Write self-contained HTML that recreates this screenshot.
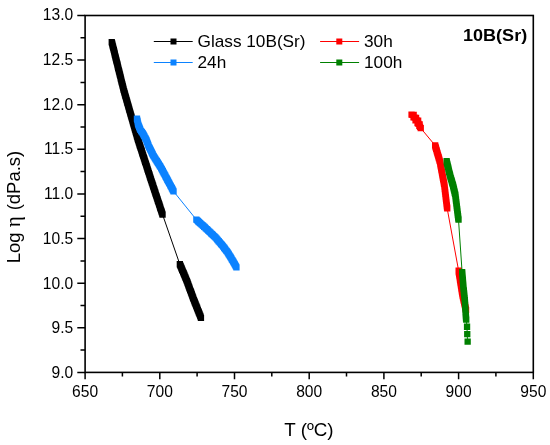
<!DOCTYPE html>
<html><head><meta charset="utf-8"><title>chart</title>
<style>
html,body{margin:0;padding:0;background:#fff;}
svg{display:block;font-family:"Liberation Sans",sans-serif;fill:#000;}
</style></head><body>
<svg width="550" height="445" viewBox="0 0 550 445">
<rect width="550" height="445" fill="#fff"/>
<path d="M111.8 42.0L123.7 90.0L138.1 140.0L151.1 180.0L162.6 214.7L179.8 264.2L186.5 280.0L193.9 300.0L201.0 317.8" fill="none" stroke="#000000" stroke-width="1"/>
<path d="M108.6 38.9h6.3v6.3h-6.3zM108.9 40.0h6.3v6.3h-6.3zM109.2 41.2h6.3v6.3h-6.3zM109.5 42.4h6.3v6.3h-6.3zM109.8 43.5h6.3v6.3h-6.3zM110.1 44.7h6.3v6.3h-6.3zM110.4 45.9h6.3v6.3h-6.3zM110.7 47.0h6.3v6.3h-6.3zM111.0 48.2h6.3v6.3h-6.3zM111.3 49.4h6.3v6.3h-6.3zM111.6 50.6h6.3v6.3h-6.3zM111.8 51.7h6.3v6.3h-6.3zM112.1 52.9h6.3v6.3h-6.3zM112.4 54.1h6.3v6.3h-6.3zM112.7 55.2h6.3v6.3h-6.3zM113.0 56.4h6.3v6.3h-6.3zM113.3 57.6h6.3v6.3h-6.3zM113.6 58.8h6.3v6.3h-6.3zM113.9 59.9h6.3v6.3h-6.3zM114.2 61.1h6.3v6.3h-6.3zM114.5 62.3h6.3v6.3h-6.3zM114.7 63.4h6.3v6.3h-6.3zM115.0 64.6h6.3v6.3h-6.3zM115.3 65.8h6.3v6.3h-6.3zM115.6 66.9h6.3v6.3h-6.3zM115.9 68.1h6.3v6.3h-6.3zM116.2 69.3h6.3v6.3h-6.3zM116.5 70.5h6.3v6.3h-6.3zM116.8 71.6h6.3v6.3h-6.3zM117.1 72.8h6.3v6.3h-6.3zM117.4 74.0h6.3v6.3h-6.3zM117.6 75.1h6.3v6.3h-6.3zM117.9 76.3h6.3v6.3h-6.3zM118.2 77.5h6.3v6.3h-6.3zM118.5 78.7h6.3v6.3h-6.3zM118.8 79.8h6.3v6.3h-6.3zM119.1 81.0h6.3v6.3h-6.3zM119.4 82.2h6.3v6.3h-6.3zM119.7 83.3h6.3v6.3h-6.3zM120.0 84.5h6.3v6.3h-6.3zM120.3 85.7h6.3v6.3h-6.3zM120.5 86.8h6.3v6.3h-6.3zM120.9 88.0h6.3v6.3h-6.3zM121.2 89.2h6.3v6.3h-6.3zM121.6 90.3h6.3v6.3h-6.3zM121.9 91.5h6.3v6.3h-6.3zM122.2 92.7h6.3v6.3h-6.3zM122.6 93.8h6.3v6.3h-6.3zM122.9 95.0h6.3v6.3h-6.3zM123.2 96.2h6.3v6.3h-6.3zM123.6 97.3h6.3v6.3h-6.3zM123.9 98.5h6.3v6.3h-6.3zM124.2 99.6h6.3v6.3h-6.3zM124.6 100.8h6.3v6.3h-6.3zM124.9 102.0h6.3v6.3h-6.3zM125.2 103.1h6.3v6.3h-6.3zM125.6 104.3h6.3v6.3h-6.3zM125.9 105.5h6.3v6.3h-6.3zM126.2 106.6h6.3v6.3h-6.3zM126.6 107.8h6.3v6.3h-6.3zM126.9 108.9h6.3v6.3h-6.3zM127.2 110.1h6.3v6.3h-6.3zM127.6 111.3h6.3v6.3h-6.3zM127.9 112.4h6.3v6.3h-6.3zM128.3 113.6h6.3v6.3h-6.3zM128.6 114.8h6.3v6.3h-6.3zM128.9 115.9h6.3v6.3h-6.3zM129.3 117.1h6.3v6.3h-6.3zM129.6 118.2h6.3v6.3h-6.3zM129.9 119.4h6.3v6.3h-6.3zM130.3 120.6h6.3v6.3h-6.3zM130.6 121.7h6.3v6.3h-6.3zM130.9 122.9h6.3v6.3h-6.3zM131.3 124.1h6.3v6.3h-6.3zM131.6 125.2h6.3v6.3h-6.3zM131.9 126.4h6.3v6.3h-6.3zM132.3 127.5h6.3v6.3h-6.3zM132.6 128.7h6.3v6.3h-6.3zM132.9 129.9h6.3v6.3h-6.3zM133.3 131.0h6.3v6.3h-6.3zM133.6 132.2h6.3v6.3h-6.3zM133.9 133.4h6.3v6.3h-6.3zM134.3 134.5h6.3v6.3h-6.3zM134.6 135.7h6.3v6.3h-6.3zM134.9 136.8h6.3v6.3h-6.3zM135.3 138.0h6.3v6.3h-6.3zM135.7 139.1h6.3v6.3h-6.3zM136.1 140.3h6.3v6.3h-6.3zM136.4 141.4h6.3v6.3h-6.3zM136.8 142.6h6.3v6.3h-6.3zM137.2 143.7h6.3v6.3h-6.3zM137.5 144.8h6.3v6.3h-6.3zM137.9 146.0h6.3v6.3h-6.3zM138.3 147.1h6.3v6.3h-6.3zM138.7 148.3h6.3v6.3h-6.3zM139.0 149.4h6.3v6.3h-6.3zM139.4 150.6h6.3v6.3h-6.3zM139.8 151.7h6.3v6.3h-6.3zM140.1 152.8h6.3v6.3h-6.3zM140.5 154.0h6.3v6.3h-6.3zM140.9 155.1h6.3v6.3h-6.3zM141.3 156.3h6.3v6.3h-6.3zM141.6 157.4h6.3v6.3h-6.3zM142.0 158.6h6.3v6.3h-6.3zM142.4 159.7h6.3v6.3h-6.3zM142.8 160.8h6.3v6.3h-6.3zM143.1 162.0h6.3v6.3h-6.3zM143.5 163.1h6.3v6.3h-6.3zM143.9 164.3h6.3v6.3h-6.3zM144.2 165.4h6.3v6.3h-6.3zM144.6 166.6h6.3v6.3h-6.3zM145.0 167.7h6.3v6.3h-6.3zM145.3 168.8h6.3v6.3h-6.3zM145.7 170.0h6.3v6.3h-6.3zM146.1 171.1h6.3v6.3h-6.3zM146.5 172.3h6.3v6.3h-6.3zM146.8 173.4h6.3v6.3h-6.3zM147.2 174.6h6.3v6.3h-6.3zM147.6 175.7h6.3v6.3h-6.3zM147.9 176.8h6.3v6.3h-6.3zM148.3 178.0h6.3v6.3h-6.3zM148.7 179.2h6.3v6.3h-6.3zM149.1 180.3h6.3v6.3h-6.3zM149.5 181.5h6.3v6.3h-6.3zM149.9 182.6h6.3v6.3h-6.3zM150.2 183.8h6.3v6.3h-6.3zM150.6 184.9h6.3v6.3h-6.3zM151.0 186.1h6.3v6.3h-6.3zM151.4 187.3h6.3v6.3h-6.3zM151.8 188.4h6.3v6.3h-6.3zM152.2 189.6h6.3v6.3h-6.3zM152.5 190.7h6.3v6.3h-6.3zM152.9 191.9h6.3v6.3h-6.3zM153.3 193.0h6.3v6.3h-6.3zM153.7 194.2h6.3v6.3h-6.3zM154.1 195.4h6.3v6.3h-6.3zM154.5 196.5h6.3v6.3h-6.3zM154.8 197.7h6.3v6.3h-6.3zM155.2 198.8h6.3v6.3h-6.3zM155.6 200.0h6.3v6.3h-6.3zM156.0 201.1h6.3v6.3h-6.3zM156.4 202.3h6.3v6.3h-6.3zM156.8 203.5h6.3v6.3h-6.3zM157.1 204.6h6.3v6.3h-6.3zM157.5 205.8h6.3v6.3h-6.3zM157.9 206.9h6.3v6.3h-6.3zM158.3 208.1h6.3v6.3h-6.3zM158.7 209.2h6.3v6.3h-6.3zM159.1 210.4h6.3v6.3h-6.3zM159.4 211.5h6.3v6.3h-6.3zM176.7 261.1h6.3v6.3h-6.3zM177.1 262.2h6.3v6.3h-6.3zM177.6 263.3h6.3v6.3h-6.3zM178.1 264.4h6.3v6.3h-6.3zM178.6 265.6h6.3v6.3h-6.3zM179.0 266.7h6.3v6.3h-6.3zM179.5 267.8h6.3v6.3h-6.3zM180.0 269.0h6.3v6.3h-6.3zM180.5 270.1h6.3v6.3h-6.3zM181.0 271.2h6.3v6.3h-6.3zM181.4 272.3h6.3v6.3h-6.3zM181.9 273.5h6.3v6.3h-6.3zM182.4 274.6h6.3v6.3h-6.3zM182.9 275.7h6.3v6.3h-6.3zM183.3 276.9h6.3v6.3h-6.3zM183.8 278.0h6.3v6.3h-6.3zM184.2 279.1h6.3v6.3h-6.3zM184.6 280.2h6.3v6.3h-6.3zM185.0 281.3h6.3v6.3h-6.3zM185.4 282.4h6.3v6.3h-6.3zM185.8 283.5h6.3v6.3h-6.3zM186.2 284.6h6.3v6.3h-6.3zM186.6 285.7h6.3v6.3h-6.3zM187.0 286.9h6.3v6.3h-6.3zM187.5 288.0h6.3v6.3h-6.3zM187.9 289.1h6.3v6.3h-6.3zM188.3 290.2h6.3v6.3h-6.3zM188.7 291.3h6.3v6.3h-6.3zM189.1 292.4h6.3v6.3h-6.3zM189.5 293.5h6.3v6.3h-6.3zM189.9 294.6h6.3v6.3h-6.3zM190.3 295.7h6.3v6.3h-6.3zM190.8 296.9h6.3v6.3h-6.3zM191.2 298.0h6.3v6.3h-6.3zM191.6 299.1h6.3v6.3h-6.3zM192.1 300.2h6.3v6.3h-6.3zM192.5 301.3h6.3v6.3h-6.3zM193.0 302.4h6.3v6.3h-6.3zM193.4 303.5h6.3v6.3h-6.3zM193.9 304.6h6.3v6.3h-6.3zM194.3 305.8h6.3v6.3h-6.3zM194.7 306.9h6.3v6.3h-6.3zM195.2 308.0h6.3v6.3h-6.3zM195.6 309.1h6.3v6.3h-6.3zM196.1 310.2h6.3v6.3h-6.3zM196.5 311.3h6.3v6.3h-6.3zM197.0 312.4h6.3v6.3h-6.3zM197.4 313.5h6.3v6.3h-6.3zM197.8 314.7h6.3v6.3h-6.3z" fill="#000000"/>
<path d="M137.0 118.6L138.3 125.0L140.4 130.0L142.7 133.2L146.3 139.8L148.6 146.0L153.2 155.3L156.3 160.3L160.6 167.0L173.6 191.4L196.4 219.7L205.0 227.5L215.5 237.5L222.0 245.0L227.0 251.5L232.0 259.5L236.5 267.4" fill="none" stroke="#0b82ff" stroke-width="1"/>
<path d="M133.8 115.4h6.3v6.3h-6.3zM134.1 116.7h6.3v6.3h-6.3zM134.4 118.0h6.3v6.3h-6.3zM134.6 119.3h6.3v6.3h-6.3zM134.9 120.6h6.3v6.3h-6.3zM135.2 121.8h6.3v6.3h-6.3zM135.6 122.8h6.3v6.3h-6.3zM136.0 123.8h6.3v6.3h-6.3zM136.4 124.8h6.3v6.3h-6.3zM136.8 125.8h6.3v6.3h-6.3zM137.2 126.8h6.3v6.3h-6.3zM138.0 127.9h6.3v6.3h-6.3zM138.8 129.0h6.3v6.3h-6.3zM139.5 130.0h6.3v6.3h-6.3zM140.1 131.1h6.3v6.3h-6.3zM140.8 132.2h6.3v6.3h-6.3zM141.3 133.3h6.3v6.3h-6.3zM141.9 134.4h6.3v6.3h-6.3zM142.6 135.6h6.3v6.3h-6.3zM143.2 136.7h6.3v6.3h-6.3zM143.5 137.7h6.3v6.3h-6.3zM143.9 138.7h6.3v6.3h-6.3zM144.3 139.8h6.3v6.3h-6.3zM144.7 140.8h6.3v6.3h-6.3zM145.1 141.8h6.3v6.3h-6.3zM145.4 142.8h6.3v6.3h-6.3zM146.0 143.9h6.3v6.3h-6.3zM146.5 144.9h6.3v6.3h-6.3zM147.0 145.9h6.3v6.3h-6.3zM147.5 147.0h6.3v6.3h-6.3zM148.0 148.0h6.3v6.3h-6.3zM148.5 149.1h6.3v6.3h-6.3zM149.0 150.1h6.3v6.3h-6.3zM149.5 151.1h6.3v6.3h-6.3zM150.0 152.2h6.3v6.3h-6.3zM150.7 153.2h6.3v6.3h-6.3zM151.3 154.2h6.3v6.3h-6.3zM151.9 155.2h6.3v6.3h-6.3zM152.5 156.2h6.3v6.3h-6.3zM153.2 157.2h6.3v6.3h-6.3zM153.8 158.1h6.3v6.3h-6.3zM154.4 159.1h6.3v6.3h-6.3zM155.0 160.0h6.3v6.3h-6.3zM155.6 161.0h6.3v6.3h-6.3zM156.2 161.9h6.3v6.3h-6.3zM156.8 162.9h6.3v6.3h-6.3zM157.4 163.8h6.3v6.3h-6.3zM158.0 164.9h6.3v6.3h-6.3zM158.6 166.0h6.3v6.3h-6.3zM159.1 167.0h6.3v6.3h-6.3zM159.7 168.1h6.3v6.3h-6.3zM160.3 169.2h6.3v6.3h-6.3zM160.8 170.2h6.3v6.3h-6.3zM161.4 171.3h6.3v6.3h-6.3zM162.0 172.3h6.3v6.3h-6.3zM162.5 173.4h6.3v6.3h-6.3zM163.1 174.5h6.3v6.3h-6.3zM163.7 175.5h6.3v6.3h-6.3zM164.2 176.6h6.3v6.3h-6.3zM164.8 177.6h6.3v6.3h-6.3zM165.4 178.7h6.3v6.3h-6.3zM165.9 179.8h6.3v6.3h-6.3zM166.5 180.8h6.3v6.3h-6.3zM167.1 181.9h6.3v6.3h-6.3zM167.6 182.9h6.3v6.3h-6.3zM168.2 184.0h6.3v6.3h-6.3zM168.8 185.1h6.3v6.3h-6.3zM169.3 186.1h6.3v6.3h-6.3zM169.9 187.2h6.3v6.3h-6.3zM170.4 188.2h6.3v6.3h-6.3zM193.2 216.5h6.3v6.3h-6.3zM194.1 217.3h6.3v6.3h-6.3zM195.0 218.1h6.3v6.3h-6.3zM195.8 218.9h6.3v6.3h-6.3zM196.7 219.7h6.3v6.3h-6.3zM197.5 220.4h6.3v6.3h-6.3zM198.4 221.2h6.3v6.3h-6.3zM199.3 222.0h6.3v6.3h-6.3zM200.1 222.8h6.3v6.3h-6.3zM201.0 223.6h6.3v6.3h-6.3zM201.8 224.3h6.3v6.3h-6.3zM202.7 225.2h6.3v6.3h-6.3zM203.6 226.0h6.3v6.3h-6.3zM204.5 226.8h6.3v6.3h-6.3zM205.3 227.7h6.3v6.3h-6.3zM206.2 228.5h6.3v6.3h-6.3zM207.1 229.3h6.3v6.3h-6.3zM208.0 230.2h6.3v6.3h-6.3zM208.8 231.0h6.3v6.3h-6.3zM209.7 231.8h6.3v6.3h-6.3zM210.6 232.7h6.3v6.3h-6.3zM211.5 233.5h6.3v6.3h-6.3zM212.3 234.3h6.3v6.3h-6.3zM213.2 235.3h6.3v6.3h-6.3zM214.0 236.2h6.3v6.3h-6.3zM214.8 237.2h6.3v6.3h-6.3zM215.6 238.1h6.3v6.3h-6.3zM216.4 239.0h6.3v6.3h-6.3zM217.2 240.0h6.3v6.3h-6.3zM218.0 240.9h6.3v6.3h-6.3zM218.8 241.8h6.3v6.3h-6.3zM219.6 242.8h6.3v6.3h-6.3zM220.3 243.7h6.3v6.3h-6.3zM221.0 244.6h6.3v6.3h-6.3zM221.7 245.6h6.3v6.3h-6.3zM222.4 246.5h6.3v6.3h-6.3zM223.1 247.4h6.3v6.3h-6.3zM223.8 248.3h6.3v6.3h-6.3zM224.5 249.3h6.3v6.3h-6.3zM225.1 250.3h6.3v6.3h-6.3zM225.7 251.3h6.3v6.3h-6.3zM226.3 252.3h6.3v6.3h-6.3zM227.0 253.3h6.3v6.3h-6.3zM227.6 254.3h6.3v6.3h-6.3zM228.2 255.3h6.3v6.3h-6.3zM228.8 256.4h6.3v6.3h-6.3zM229.4 257.3h6.3v6.3h-6.3zM230.0 258.3h6.3v6.3h-6.3zM230.5 259.3h6.3v6.3h-6.3zM231.1 260.3h6.3v6.3h-6.3zM231.7 261.3h6.3v6.3h-6.3zM232.2 262.3h6.3v6.3h-6.3zM232.8 263.3h6.3v6.3h-6.3zM233.3 264.2h6.3v6.3h-6.3z" fill="#0b82ff"/>
<path d="M411.5 114.7L413.6 114.9L413.5 117.5L416.0 117.9L415.5 120.3L418.1 120.7L417.5 123.2L419.6 124.4L419.3 125.8L420.7 128.1L435.1 145.4L440.0 162.0L444.3 185.0L445.5 195.0L447.2 208.5L458.6 270.6L462.5 295.0L466.0 310.0" fill="none" stroke="#ff0000" stroke-width="1"/>
<path d="M408.4 111.5h6.3v6.3h-6.3zM409.4 111.7h6.3v6.3h-6.3zM410.5 111.8h6.3v6.3h-6.3zM410.4 113.0h6.3v6.3h-6.3zM410.4 114.3h6.3v6.3h-6.3zM411.6 114.5h6.3v6.3h-6.3zM412.9 114.8h6.3v6.3h-6.3zM412.6 115.9h6.3v6.3h-6.3zM412.4 117.1h6.3v6.3h-6.3zM413.7 117.3h6.3v6.3h-6.3zM415.0 117.5h6.3v6.3h-6.3zM414.7 118.8h6.3v6.3h-6.3zM414.4 120.0h6.3v6.3h-6.3zM415.4 120.7h6.3v6.3h-6.3zM416.5 121.2h6.3v6.3h-6.3zM416.2 122.6h6.3v6.3h-6.3zM416.9 123.8h6.3v6.3h-6.3zM417.6 124.9h6.3v6.3h-6.3zM432.0 142.2h6.3v6.3h-6.3zM432.3 143.4h6.3v6.3h-6.3zM432.7 144.6h6.3v6.3h-6.3zM433.0 145.8h6.3v6.3h-6.3zM433.4 147.0h6.3v6.3h-6.3zM433.7 148.2h6.3v6.3h-6.3zM434.1 149.4h6.3v6.3h-6.3zM434.4 150.5h6.3v6.3h-6.3zM434.8 151.7h6.3v6.3h-6.3zM435.1 152.9h6.3v6.3h-6.3zM435.5 154.1h6.3v6.3h-6.3zM435.8 155.3h6.3v6.3h-6.3zM436.2 156.5h6.3v6.3h-6.3zM436.5 157.7h6.3v6.3h-6.3zM436.9 158.8h6.3v6.3h-6.3zM437.1 160.1h6.3v6.3h-6.3zM437.3 161.3h6.3v6.3h-6.3zM437.5 162.5h6.3v6.3h-6.3zM437.8 163.7h6.3v6.3h-6.3zM438.0 164.9h6.3v6.3h-6.3zM438.2 166.1h6.3v6.3h-6.3zM438.4 167.3h6.3v6.3h-6.3zM438.7 168.5h6.3v6.3h-6.3zM438.9 169.7h6.3v6.3h-6.3zM439.1 171.0h6.3v6.3h-6.3zM439.3 172.2h6.3v6.3h-6.3zM439.6 173.4h6.3v6.3h-6.3zM439.8 174.6h6.3v6.3h-6.3zM440.0 175.8h6.3v6.3h-6.3zM440.2 177.0h6.3v6.3h-6.3zM440.5 178.2h6.3v6.3h-6.3zM440.7 179.4h6.3v6.3h-6.3zM440.9 180.6h6.3v6.3h-6.3zM441.2 181.8h6.3v6.3h-6.3zM441.3 183.1h6.3v6.3h-6.3zM441.5 184.3h6.3v6.3h-6.3zM441.6 185.6h6.3v6.3h-6.3zM441.8 186.8h6.3v6.3h-6.3zM441.9 188.1h6.3v6.3h-6.3zM442.1 189.3h6.3v6.3h-6.3zM442.2 190.6h6.3v6.3h-6.3zM442.4 191.8h6.3v6.3h-6.3zM442.5 193.1h6.3v6.3h-6.3zM442.7 194.3h6.3v6.3h-6.3zM442.8 195.5h6.3v6.3h-6.3zM443.0 196.8h6.3v6.3h-6.3zM443.1 198.0h6.3v6.3h-6.3zM443.3 199.2h6.3v6.3h-6.3zM443.4 200.4h6.3v6.3h-6.3zM443.6 201.7h6.3v6.3h-6.3zM443.7 202.9h6.3v6.3h-6.3zM443.9 204.1h6.3v6.3h-6.3zM444.1 205.3h6.3v6.3h-6.3zM455.5 267.5h6.3v6.3h-6.3zM455.6 268.6h6.3v6.3h-6.3zM455.8 269.8h6.3v6.3h-6.3zM456.0 270.9h6.3v6.3h-6.3zM456.2 272.1h6.3v6.3h-6.3zM456.4 273.3h6.3v6.3h-6.3zM456.6 274.4h6.3v6.3h-6.3zM456.8 275.6h6.3v6.3h-6.3zM456.9 276.7h6.3v6.3h-6.3zM457.1 277.9h6.3v6.3h-6.3zM457.3 279.1h6.3v6.3h-6.3zM457.5 280.2h6.3v6.3h-6.3zM457.7 281.4h6.3v6.3h-6.3zM457.9 282.6h6.3v6.3h-6.3zM458.1 283.7h6.3v6.3h-6.3zM458.2 284.9h6.3v6.3h-6.3zM458.4 286.0h6.3v6.3h-6.3zM458.6 287.2h6.3v6.3h-6.3zM458.8 288.4h6.3v6.3h-6.3zM459.0 289.5h6.3v6.3h-6.3zM459.2 290.7h6.3v6.3h-6.3zM459.4 291.9h6.3v6.3h-6.3zM459.6 293.0h6.3v6.3h-6.3zM459.9 294.2h6.3v6.3h-6.3zM460.2 295.3h6.3v6.3h-6.3zM460.4 296.5h6.3v6.3h-6.3zM460.7 297.6h6.3v6.3h-6.3zM461.0 298.8h6.3v6.3h-6.3zM461.2 299.9h6.3v6.3h-6.3zM461.5 301.1h6.3v6.3h-6.3zM461.8 302.2h6.3v6.3h-6.3zM462.0 303.4h6.3v6.3h-6.3zM462.3 304.5h6.3v6.3h-6.3zM462.6 305.7h6.3v6.3h-6.3zM462.9 306.9h6.3v6.3h-6.3z" fill="#ff0000"/>
<path d="M446.6 161.2L450.0 175.4L452.9 185.0L455.3 195.0L458.5 219.7L462.1 272.0L463.7 290.0L464.8 300.0L465.9 317.0L466.2 319.6L467.0 326.7L467.2 334.1L467.6 341.5" fill="none" stroke="#008000" stroke-width="1"/>
<path d="M443.5 158.0h6.3v6.3h-6.3zM443.7 159.2h6.3v6.3h-6.3zM444.0 160.4h6.3v6.3h-6.3zM444.3 161.6h6.3v6.3h-6.3zM444.6 162.8h6.3v6.3h-6.3zM444.9 164.0h6.3v6.3h-6.3zM445.2 165.2h6.3v6.3h-6.3zM445.4 166.3h6.3v6.3h-6.3zM445.7 167.5h6.3v6.3h-6.3zM446.0 168.7h6.3v6.3h-6.3zM446.3 169.9h6.3v6.3h-6.3zM446.6 171.1h6.3v6.3h-6.3zM446.9 172.2h6.3v6.3h-6.3zM447.2 173.4h6.3v6.3h-6.3zM447.6 174.7h6.3v6.3h-6.3zM447.9 175.8h6.3v6.3h-6.3zM448.3 177.0h6.3v6.3h-6.3zM448.7 178.2h6.3v6.3h-6.3zM449.0 179.4h6.3v6.3h-6.3zM449.4 180.7h6.3v6.3h-6.3zM449.8 181.8h6.3v6.3h-6.3zM450.0 183.0h6.3v6.3h-6.3zM450.3 184.1h6.3v6.3h-6.3zM450.6 185.2h6.3v6.3h-6.3zM450.8 186.3h6.3v6.3h-6.3zM451.1 187.4h6.3v6.3h-6.3zM451.4 188.5h6.3v6.3h-6.3zM451.6 189.6h6.3v6.3h-6.3zM451.9 190.7h6.3v6.3h-6.3zM452.2 191.8h6.3v6.3h-6.3zM452.3 193.0h6.3v6.3h-6.3zM452.5 194.2h6.3v6.3h-6.3zM452.6 195.4h6.3v6.3h-6.3zM452.8 196.6h6.3v6.3h-6.3zM452.9 197.7h6.3v6.3h-6.3zM453.1 198.9h6.3v6.3h-6.3zM453.2 200.1h6.3v6.3h-6.3zM453.4 201.3h6.3v6.3h-6.3zM453.5 202.4h6.3v6.3h-6.3zM453.7 203.6h6.3v6.3h-6.3zM453.8 204.8h6.3v6.3h-6.3zM454.0 206.0h6.3v6.3h-6.3zM454.1 207.1h6.3v6.3h-6.3zM454.3 208.3h6.3v6.3h-6.3zM454.4 209.5h6.3v6.3h-6.3zM454.6 210.7h6.3v6.3h-6.3zM454.7 211.8h6.3v6.3h-6.3zM454.9 213.0h6.3v6.3h-6.3zM455.0 214.2h6.3v6.3h-6.3zM455.2 215.4h6.3v6.3h-6.3zM455.4 216.5h6.3v6.3h-6.3zM459.0 268.9h6.3v6.3h-6.3zM459.1 270.1h6.3v6.3h-6.3zM459.2 271.2h6.3v6.3h-6.3zM459.3 272.5h6.3v6.3h-6.3zM459.4 273.7h6.3v6.3h-6.3zM459.5 274.9h6.3v6.3h-6.3zM459.6 276.1h6.3v6.3h-6.3zM459.7 277.2h6.3v6.3h-6.3zM459.8 278.5h6.3v6.3h-6.3zM459.9 279.7h6.3v6.3h-6.3zM460.0 280.9h6.3v6.3h-6.3zM460.1 282.1h6.3v6.3h-6.3zM460.2 283.2h6.3v6.3h-6.3zM460.3 284.5h6.3v6.3h-6.3zM460.4 285.7h6.3v6.3h-6.3zM460.6 286.9h6.3v6.3h-6.3zM460.7 288.1h6.3v6.3h-6.3zM460.8 289.4h6.3v6.3h-6.3zM461.0 290.6h6.3v6.3h-6.3zM461.1 291.9h6.3v6.3h-6.3zM461.2 293.1h6.3v6.3h-6.3zM461.4 294.4h6.3v6.3h-6.3zM461.5 295.6h6.3v6.3h-6.3zM461.7 296.9h6.3v6.3h-6.3zM461.7 298.1h6.3v6.3h-6.3zM461.8 299.3h6.3v6.3h-6.3zM461.9 300.5h6.3v6.3h-6.3zM462.0 301.7h6.3v6.3h-6.3zM462.0 302.9h6.3v6.3h-6.3zM462.1 304.1h6.3v6.3h-6.3zM462.2 305.4h6.3v6.3h-6.3zM462.3 306.6h6.3v6.3h-6.3zM462.4 307.8h6.3v6.3h-6.3zM462.4 309.0h6.3v6.3h-6.3zM462.5 310.2h6.3v6.3h-6.3zM462.6 311.4h6.3v6.3h-6.3zM462.7 312.6h6.3v6.3h-6.3zM462.8 313.9h6.3v6.3h-6.3zM462.9 315.2h6.3v6.3h-6.3zM463.1 316.5h6.3v6.3h-6.3zM463.9 323.6h6.3v6.3h-6.3zM464.1 331.0h6.3v6.3h-6.3zM464.5 338.4h6.3v6.3h-6.3z" fill="#008000"/>
<rect x="85.1" y="15.5" width="448.2" height="356.9" fill="none" stroke="#000" stroke-width="1.6"/><path d="M85.1 372.4v6.8M122.4 372.4v4.2M159.8 372.4v6.8M197.1 372.4v4.2M234.5 372.4v6.8M271.8 372.4v4.2M309.2 372.4v6.8M346.5 372.4v4.2M383.9 372.4v6.8M421.2 372.4v4.2M458.6 372.4v6.8M495.9 372.4v4.2M533.3 372.4v6.8M85.1 372.4h-7.8M85.1 350.1h-4.6M85.1 327.8h-7.8M85.1 305.5h-4.6M85.1 283.2h-7.8M85.1 260.9h-4.6M85.1 238.6h-7.8M85.1 216.3h-4.6M85.1 193.9h-7.8M85.1 171.6h-4.6M85.1 149.3h-7.8M85.1 127.0h-4.6M85.1 104.7h-7.8M85.1 82.4h-4.6M85.1 60.1h-7.8M85.1 37.8h-4.6M85.1 15.5h-7.8" stroke="#000" stroke-width="1.5" fill="none"/><g font-size="15.6"><text x="85.1" y="396.8" text-anchor="middle">650</text><text x="159.8" y="396.8" text-anchor="middle">700</text><text x="234.5" y="396.8" text-anchor="middle">750</text><text x="309.2" y="396.8" text-anchor="middle">800</text><text x="383.9" y="396.8" text-anchor="middle">850</text><text x="458.6" y="396.8" text-anchor="middle">900</text><text x="533.3" y="396.8" text-anchor="middle">950</text><text x="73.2" y="378.1" text-anchor="end">9.0</text><text x="73.2" y="333.3" text-anchor="end">9.5</text><text x="73.2" y="288.5" text-anchor="end">10.0</text><text x="73.2" y="243.8" text-anchor="end">10.5</text><text x="73.2" y="199.0" text-anchor="end">11.0</text><text x="73.2" y="154.2" text-anchor="end">11.5</text><text x="73.2" y="109.5" text-anchor="end">12.0</text><text x="73.2" y="64.7" text-anchor="end">12.5</text><text x="73.2" y="19.9" text-anchor="end">13.0</text></g>

<g stroke-width="1">
<path d="M153.8 41.5H192.7" stroke="#000"/><rect x="170.5" y="38.5" width="6" height="6" fill="#000"/>
<path d="M153.8 62.5H192.7" stroke="#0b82ff"/><rect x="170.5" y="59.5" width="6" height="6" fill="#0b82ff"/>
<path d="M320.1 41.5H359.1" stroke="#ff0000"/><rect x="336.3" y="38.5" width="6" height="6" fill="#ff0000"/>
<path d="M320.1 62.5H359.1" stroke="#008000"/><rect x="336.3" y="59.5" width="6" height="6" fill="#008000"/>
</g>
<g font-size="16.1">
<text transform="translate(197.5 47.1) scale(1.07 1)">Glass 10B(Sr)</text>
<text transform="translate(197.5 68.3) scale(1.07 1)">24h</text>
<text transform="translate(364 47.1) scale(1.07 1)">30h</text>
<text transform="translate(364 68.3) scale(1.07 1)">100h</text>
</g>
<text x="463" y="41.3" font-size="17.4" font-weight="bold" textLength="64.2" lengthAdjust="spacingAndGlyphs">10B(Sr)</text>
<text x="309" y="435.6" font-size="18.8" text-anchor="middle">T (ºC)</text>
<text transform="translate(19.8 263.3) rotate(-90)" font-size="18.5">Log <tspan font-family="Liberation Serif,serif" font-size="21">η</tspan><tspan dx="0.8"> (dPa.s)</tspan></text>

</svg>
</body></html>
